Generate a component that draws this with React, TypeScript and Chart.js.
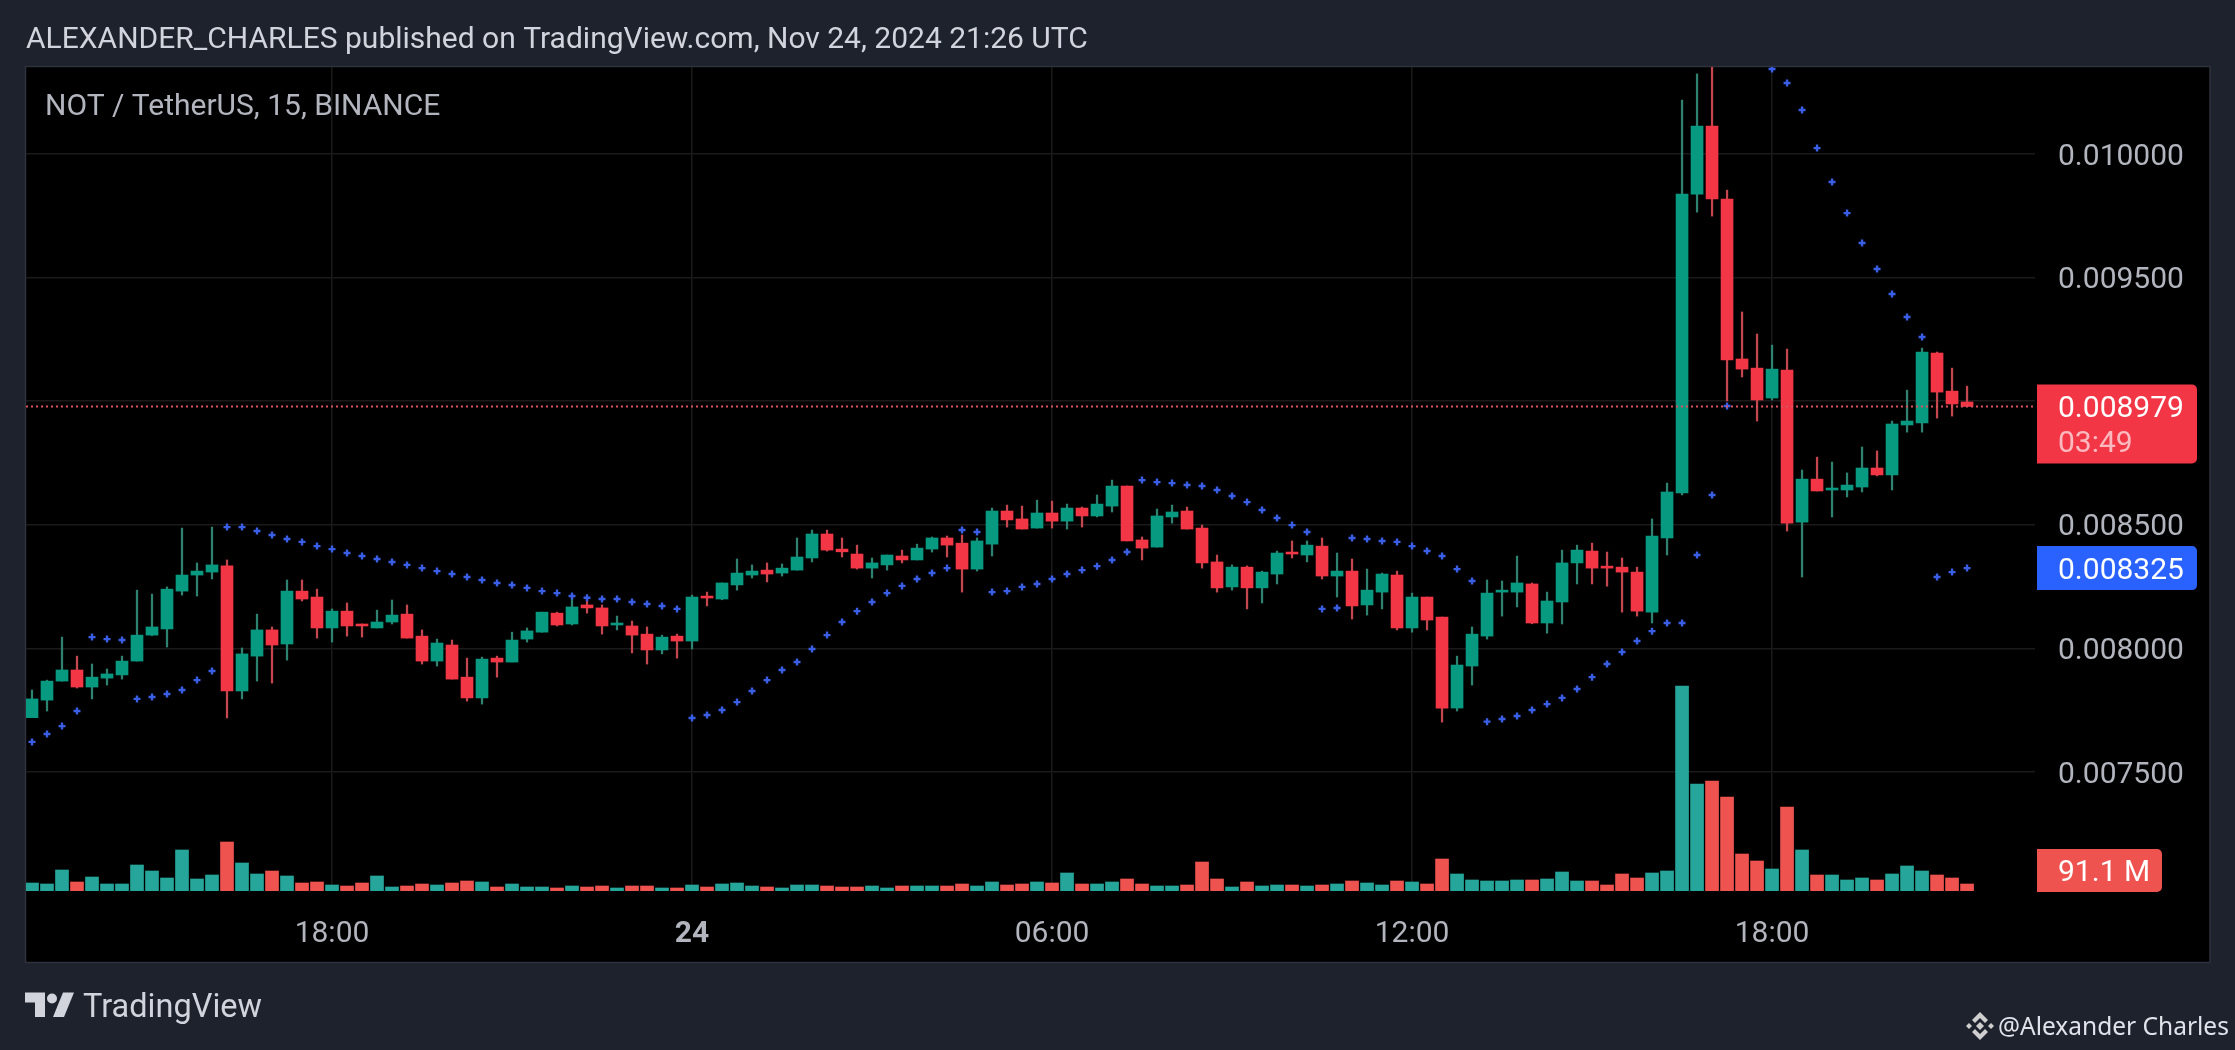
import React, { useEffect, useRef } from 'react';
import { Chart, registerables } from 'chart.js';

Chart.register(...registerables);

// prices are in millionths of USDT, volumes in millions of NOT
const opens = [
  7720, 7791, 7868, 7913, 7844, 7880, 7893, 7949, 8054, 8079,
  8232, 8297, 8309, 8334, 7828, 7969, 8075, 8018, 8232, 8208,
  8083, 8151, 8099, 8083, 8107, 8139, 8050, 7949, 8014, 7884,
  7800, 7961, 7945, 8038, 8066, 8143, 8099, 8176, 8164, 8095,
  8091, 8058, 7994, 8050, 8030, 8212, 8200, 8257, 8297, 8317,
  8305, 8317, 8366, 8463, 8402, 8382, 8325, 8338, 8374, 8358,
  8402, 8447, 8426, 8321, 8422, 8556, 8524, 8487, 8548, 8515,
  8568, 8536, 8576, 8657, 8439, 8410, 8532, 8556, 8487, 8350,
  8249, 8329, 8245, 8301, 8390, 8378, 8414, 8293, 8313, 8176,
  8228, 8297, 8083, 8208, 8127, 7759, 7929, 8050, 8228, 8228,
  8261, 8103, 8188, 8346, 8394, 8333, 8329, 8309, 8147, 8447,
  8629, 9838, 10113, 9818, 9171, 9134, 9013, 9126, 8511, 8685,
  8641, 8641, 8653, 8730, 8702, 8904, 8912, 9195, 9041, 8997,
];
const highs = [
  7832, 7872, 8046, 7969, 7937, 7917, 7969, 8236, 8220, 8249,
  8487, 8346, 8491, 8358, 8002, 8139, 8087, 8277, 8277, 8240,
  8160, 8184, 8099, 8155, 8196, 8176, 8075, 8038, 8034, 7961,
  7965, 7969, 8066, 8083, 8147, 8147, 8212, 8200, 8176, 8131,
  8111, 8087, 8054, 8058, 8216, 8228, 8265, 8362, 8338, 8346,
  8342, 8447, 8479, 8479, 8447, 8418, 8366, 8378, 8398, 8422,
  8451, 8455, 8459, 8447, 8568, 8580, 8576, 8600, 8596, 8584,
  8572, 8621, 8681, 8657, 8451, 8564, 8580, 8572, 8499, 8378,
  8338, 8334, 8313, 8394, 8435, 8435, 8447, 8386, 8362, 8321,
  8305, 8313, 8224, 8208, 8127, 7969, 8087, 8277, 8273, 8374,
  8265, 8228, 8398, 8418, 8426, 8390, 8366, 8329, 8524, 8669,
  10218, 10324, 10380, 9854, 9361, 9272, 9227, 9211, 8722, 8774,
  8754, 8710, 8815, 8799, 8920, 9045, 9215, 9199, 9134, 9061,
];
const lows = [
  7720, 7747, 7868, 7840, 7796, 7852, 7876, 7949, 8052, 8006,
  8216, 8212, 8281, 7719, 7796, 7868, 7860, 7953, 8192, 8042,
  8026, 8050, 8046, 8083, 8099, 8042, 7937, 7929, 7876, 7787,
  7775, 7884, 7945, 8026, 8066, 8091, 8095, 8143, 8058, 8075,
  7982, 7937, 7978, 7961, 7998, 8172, 8197, 8236, 8285, 8269,
  8293, 8317, 8350, 8394, 8370, 8321, 8285, 8317, 8346, 8358,
  8390, 8370, 8228, 8313, 8374, 8491, 8483, 8487, 8487, 8483,
  8491, 8532, 8552, 8435, 8358, 8410, 8507, 8483, 8325, 8228,
  8236, 8160, 8184, 8261, 8366, 8350, 8281, 8208, 8119, 8135,
  8160, 8075, 8066, 8075, 7702, 7747, 7852, 8038, 8131, 8168,
  8100, 8062, 8099, 8261, 8261, 8252, 8147, 8131, 8103, 8378,
  8621, 9765, 9749, 9001, 9098, 8920, 9005, 8475, 8289, 8637,
  8532, 8613, 8633, 8698, 8641, 8875, 8875, 8932, 8940, 8979,
];
const closes = [
  7796, 7868, 7913, 7844, 7884, 7897, 7949, 8054, 8087, 8240,
  8297, 8313, 8338, 7828, 7978, 8075, 8014, 8232, 8200, 8083,
  8151, 8091, 8091, 8107, 8135, 8042, 7949, 8022, 7876, 7800,
  7957, 7945, 8034, 8071, 8147, 8095, 8168, 8164, 8091, 8103,
  8054, 7994, 8046, 8030, 8208, 8204, 8265, 8305, 8313, 8301,
  8325, 8370, 8463, 8398, 8391, 8325, 8346, 8378, 8358, 8406,
  8447, 8418, 8321, 8435, 8556, 8520, 8483, 8548, 8515, 8568,
  8536, 8584, 8657, 8435, 8406, 8536, 8552, 8483, 8346, 8245,
  8329, 8245, 8309, 8386, 8382, 8418, 8293, 8313, 8172, 8236,
  8301, 8083, 8208, 8115, 7759, 7933, 8058, 8224, 8236, 8265,
  8103, 8192, 8346, 8398, 8325, 8325, 8309, 8151, 8455, 8633,
  9838, 10113, 9818, 9167, 9130, 9005, 9130, 8507, 8685, 8637,
  8649, 8661, 8730, 8702, 8908, 8920, 9199, 9037, 8989, 8979,
];
const sar = [
  7622, 7654, 7686, 7747, 8046, 8038, 8034, 7796, 7804, 7816,
  7832, 7872, 7909, 8491, 8491, 8475, 8459, 8443, 8431, 8414,
  8402, 8386, 8374, 8362, 8350, 8338, 8325, 8313, 8301, 8289,
  8277, 8265, 8257, 8245, 8232, 8224, 8212, 8205, 8200, 8200,
  8188, 8180, 8172, 8160, 7719, 7731, 7751, 7783, 7828, 7872,
  7913, 7945, 7998, 8054, 8107, 8151, 8188, 8224, 8253, 8281,
  8305, 8325, 8479, 8471, 8228, 8232, 8249, 8261, 8281, 8301,
  8317, 8333, 8358, 8390, 8681, 8673, 8669, 8661, 8657, 8641,
  8617, 8592, 8560, 8528, 8499, 8471, 8160, 8164, 8447, 8443,
  8435, 8431, 8414, 8394, 8374, 8321, 8273, 7704, 7715, 7727,
  7751, 7775, 7800, 7836, 7884, 7937, 7986, 8030, 8070, 8103,
  8103, 8378, 8621, 8981, null, null, 10344, 10287, 10178, 10024,
  9887, 9761, 9640, 9535, 9434, 9341, 9260, 8289, 8309, 8325,
];
const volumes = [
  104, 91, 273, 117, 182, 91, 91, 338, 260, 169,
  533, 156, 208, 637, 364, 221, 260, 195, 104, 117,
  78, 65, 104, 195, 52, 65, 91, 78, 104, 130,
  117, 52, 91, 52, 52, 39, 65, 52, 65, 39,
  65, 65, 39, 39, 78, 52, 91, 104, 65, 52,
  39, 78, 78, 65, 52, 52, 65, 39, 65, 65,
  65, 65, 91, 65, 117, 78, 91, 117, 104, 234,
  91, 91, 117, 156, 91, 65, 65, 78, 377, 156,
  52, 117, 65, 78, 78, 65, 78, 91, 130, 104,
  78, 130, 117, 91, 416, 221, 143, 130, 130, 143,
  143, 156, 247, 130, 130, 78, 221, 169, 234, 260,
  2665, 1391, 1430, 1222, 481, 390, 286, 1092, 533, 208,
  208, 143, 169, 143, 221, 325, 260, 208, 169, 91,
];

const timeTicks = [20, 44, 68, 92, 116];
const timeLabels = ['18:00', '24', '06:00', '12:00', '18:00'];
const priceTicks = [7500, 8000, 8500, 9000, 9500, 10000];
const lastPrice = 8979;
const sarLast = 8325;

const UP = '#089981';
const DOWN = '#f23645';
const UP_WICK = '#2f8270';
const DOWN_WICK = '#c4464f';
const VOL_UP = '#26a69a';
const VOL_DOWN = '#ef5350';
const PAGE_BG = '#1e222d';
const GRID = '#1a1a1a';
const FONT = 'Roboto, sans-serif';
const LABEL_FONT = `30px ${FONT}`;

const isDown = (i: number) => closes[i] < opens[i];
const fmt = (v: number) => (v / 1000000).toFixed(6);

const roundBox = (ctx: CanvasRenderingContext2D, x: number, y: number, w: number, h: number, color: string) => {
  ctx.fillStyle = color;
  ctx.beginPath();
  ctx.roundRect(x, y, w, h, [0, 5, 5, 0]);
  ctx.fill();
};

const text = (ctx: CanvasRenderingContext2D, s: string, x: number, y: number, font: string, color: string) => {
  ctx.font = font;
  ctx.fillStyle = color;
  ctx.textAlign = 'left';
  ctx.textBaseline = 'middle';
  ctx.fillText(s, x, y);
};

const poly = (ctx: CanvasRenderingContext2D, pts: number[][]) => {
  ctx.beginPath();
  pts.forEach(([x, y], i) => (i ? ctx.lineTo(x, y) : ctx.moveTo(x, y)));
  ctx.closePath();
  ctx.fill();
};

// page frame, drawn under the scales
const framePlugin = {
  id: 'frame',
  beforeDraw(chart: any) {
    const { ctx } = chart;
    ctx.save();
    ctx.fillStyle = PAGE_BG;
    ctx.fillRect(0, 0, 2235, 1050);
    ctx.fillStyle = '#000000';
    ctx.fillRect(26, 67, 2184, 895);
    ctx.strokeStyle = '#2e323d';
    ctx.lineWidth = 1.5;
    ctx.strokeRect(25.5, 66.5, 2184.5, 896);
    ctx.restore();
  },
};

// price line, axis labels, header and footer
const overlayPlugin = {
  id: 'overlay',
  afterDraw(chart: any) {
    const { ctx, chartArea } = chart;
    const y = chart.scales.y;
    const lastY = y.getPixelForValue(lastPrice);
    ctx.save();

    ctx.strokeStyle = '#d9525c';
    ctx.lineWidth = 2;
    ctx.setLineDash([2, 3]);
    ctx.beginPath();
    ctx.moveTo(chartArea.left, lastY);
    ctx.lineTo(chartArea.right, lastY);
    ctx.stroke();
    ctx.setLineDash([]);

    roundBox(ctx, 2037, lastY - 22, 160, 79, DOWN);
    text(ctx, fmt(lastPrice), 2058, lastY + 3, LABEL_FONT, '#ffffff');
    text(ctx, '03:49', 2058, lastY + 38, LABEL_FONT, 'rgba(255,255,255,0.65)');

    const sarY = y.getPixelForValue(sarLast);
    roundBox(ctx, 2037, sarY - 22, 160, 44, '#2962ff');
    text(ctx, fmt(sarLast), 2058, sarY + 3, LABEL_FONT, '#ffffff');

    roundBox(ctx, 2037, 849, 125, 43, VOL_DOWN);
    text(ctx, '91.1 M', 2058, 873, LABEL_FONT, '#ffffff');

    text(ctx, 'ALEXANDER_CHARLES published on TradingView.com, Nov 24, 2024 21:26 UTC', 26, 40, LABEL_FONT, '#d1d4dc');
    text(ctx, 'NOT / TetherUS, 15, BINANCE', 45, 107, LABEL_FONT, '#b2b5be');

    // TradingView logo
    ctx.fillStyle = '#d1d4dc';
    poly(ctx, [[25, 992.5], [45, 992.5], [45, 1017], [35, 1017], [35, 1002.5], [25, 1002.5]]);
    ctx.beginPath();
    ctx.arc(52, 998.5, 5, 0, Math.PI * 2);
    ctx.fill();
    poly(ctx, [[63, 992.5], [74, 992.5], [64, 1017], [53, 1017]]);
    text(ctx, 'TradingView', 83, 1009, `32.5px ${FONT}`, '#d1d4dc');

    // exchange mark next to the author
    const cx = 1980;
    const cy = 1026;
    ctx.fillStyle = '#cfcfcf';
    poly(ctx, [[cx - 14, cy], [cx - 11, cy - 3], [cx - 8, cy], [cx - 11, cy + 3]]);
    poly(ctx, [[cx + 14, cy], [cx + 11, cy - 3], [cx + 8, cy], [cx + 11, cy + 3]]);
    poly(ctx, [[cx, cy - 14], [cx + 8, cy - 6], [cx + 5, cy - 3], [cx, cy - 8], [cx - 5, cy - 3], [cx - 8, cy - 6]]);
    poly(ctx, [[cx, cy + 14], [cx + 8, cy + 6], [cx + 5, cy + 3], [cx, cy + 8], [cx - 5, cy + 3], [cx - 8, cy + 6]]);
    poly(ctx, [[cx, cy - 4], [cx + 4, cy], [cx, cy + 4], [cx - 4, cy]]);
    text(ctx, '@Alexander Charles', 1998, 1028, '24.5px "Noto Sans", sans-serif', '#e0e3eb');

    ctx.restore();
  },
};

const App: React.FC = () => {
  const chartRef = useRef<HTMLCanvasElement>(null);

  useEffect(() => {
    if (!chartRef.current) return;
    const candleColors = opens.map((_, i) => (isDown(i) ? DOWN : UP));
    const wickColors = opens.map((_, i) => (isDown(i) ? DOWN_WICK : UP_WICK));
    const volColors = opens.map((_, i) => (isDown(i) ? VOL_DOWN : VOL_UP));

    const chart = new Chart(chartRef.current, {
      type: 'bar',
      data: {
        datasets: [
          {
            type: 'line',
            label: 'SAR',
            data: sar.map((v, i) => ({ x: i, y: v })) as any,
            showLine: false,
            pointStyle: 'cross',
            pointRadius: 3.5,
            pointBorderWidth: 2.4,
            pointBorderColor: '#3a5ee6',
            order: 0,
            yAxisID: 'y',
          },
          {
            label: 'Body',
            data: opens.map((o, i) => ({ x: i, y: [o, closes[i]] })) as any,
            backgroundColor: candleColors,
            barThickness: 12,
            order: 1,
            yAxisID: 'y',
          },
          {
            label: 'Wick',
            data: lows.map((l, i) => ({ x: i, y: [l, highs[i]] })) as any,
            backgroundColor: wickColors,
            barThickness: 1.6,
            order: 2,
            yAxisID: 'y',
          },
          {
            label: 'Volume',
            data: volumes.map((v, i) => ({ x: i, y: v })) as any,
            backgroundColor: volColors,
            barThickness: 13,
            order: 3,
            yAxisID: 'vol',
          },
        ],
      },
      options: {
        animation: false,
        responsive: false,
        maintainAspectRatio: false,
        layout: { padding: { left: 26, top: 67, right: 0, bottom: 0 } },
        datasets: { bar: { grouped: false } },
        plugins: { legend: { display: false }, tooltip: { enabled: false } },
        scales: {
          x: {
            type: 'linear',
            min: -0.4,
            max: 133.53,
            offset: false,
            grid: { color: GRID, lineWidth: 1.5, drawTicks: false, offset: false },
            border: { display: false },
            afterBuildTicks: (scale: any) => {
              scale.ticks = timeTicks.map((value) => ({ value }));
            },
            afterFit: (scale: any) => {
              scale.height = 159;
            },
            ticks: {
              autoSkip: false,
              maxRotation: 0,
              padding: 25,
              color: '#b2b5be',
              font: (ctx: any) => ({
                family: FONT,
                size: 30,
                weight: ctx.index === 1 ? 'bold' : 'normal',
              }),
              callback: (value: any) => timeLabels[timeTicks.indexOf(value)],
            },
          },
          y: {
            position: 'right',
            min: 7019,
            max: 10352,
            grid: { color: GRID, lineWidth: 1.5, drawTicks: false },
            border: { display: false },
            afterBuildTicks: (scale: any) => {
              scale.ticks = priceTicks.map((value) => ({ value }));
            },
            afterFit: (scale: any) => {
              scale.width = 200;
            },
            ticks: {
              padding: 23,
              labelOffset: 3,
              color: '#b2b5be',
              font: { family: FONT, size: 30 },
              // the 0.009000 label sits under the last price box
              callback: (value: any) => (value === 9000 ? '' : fmt(value)),
            },
          },
          vol: {
            display: false,
            min: 0,
            max: 10712,
          },
        },
      },
      plugins: [framePlugin, overlayPlugin],
    } as any);

    return () => chart.destroy();
  }, []);

  return (
    <div style={{ position: 'fixed', left: 0, top: 0, width: 2235, height: 1050, overflow: 'hidden', background: PAGE_BG }}>
      <canvas ref={chartRef} width={2235} height={1050} style={{ display: 'block' }} />
    </div>
  );
};

export default App;
